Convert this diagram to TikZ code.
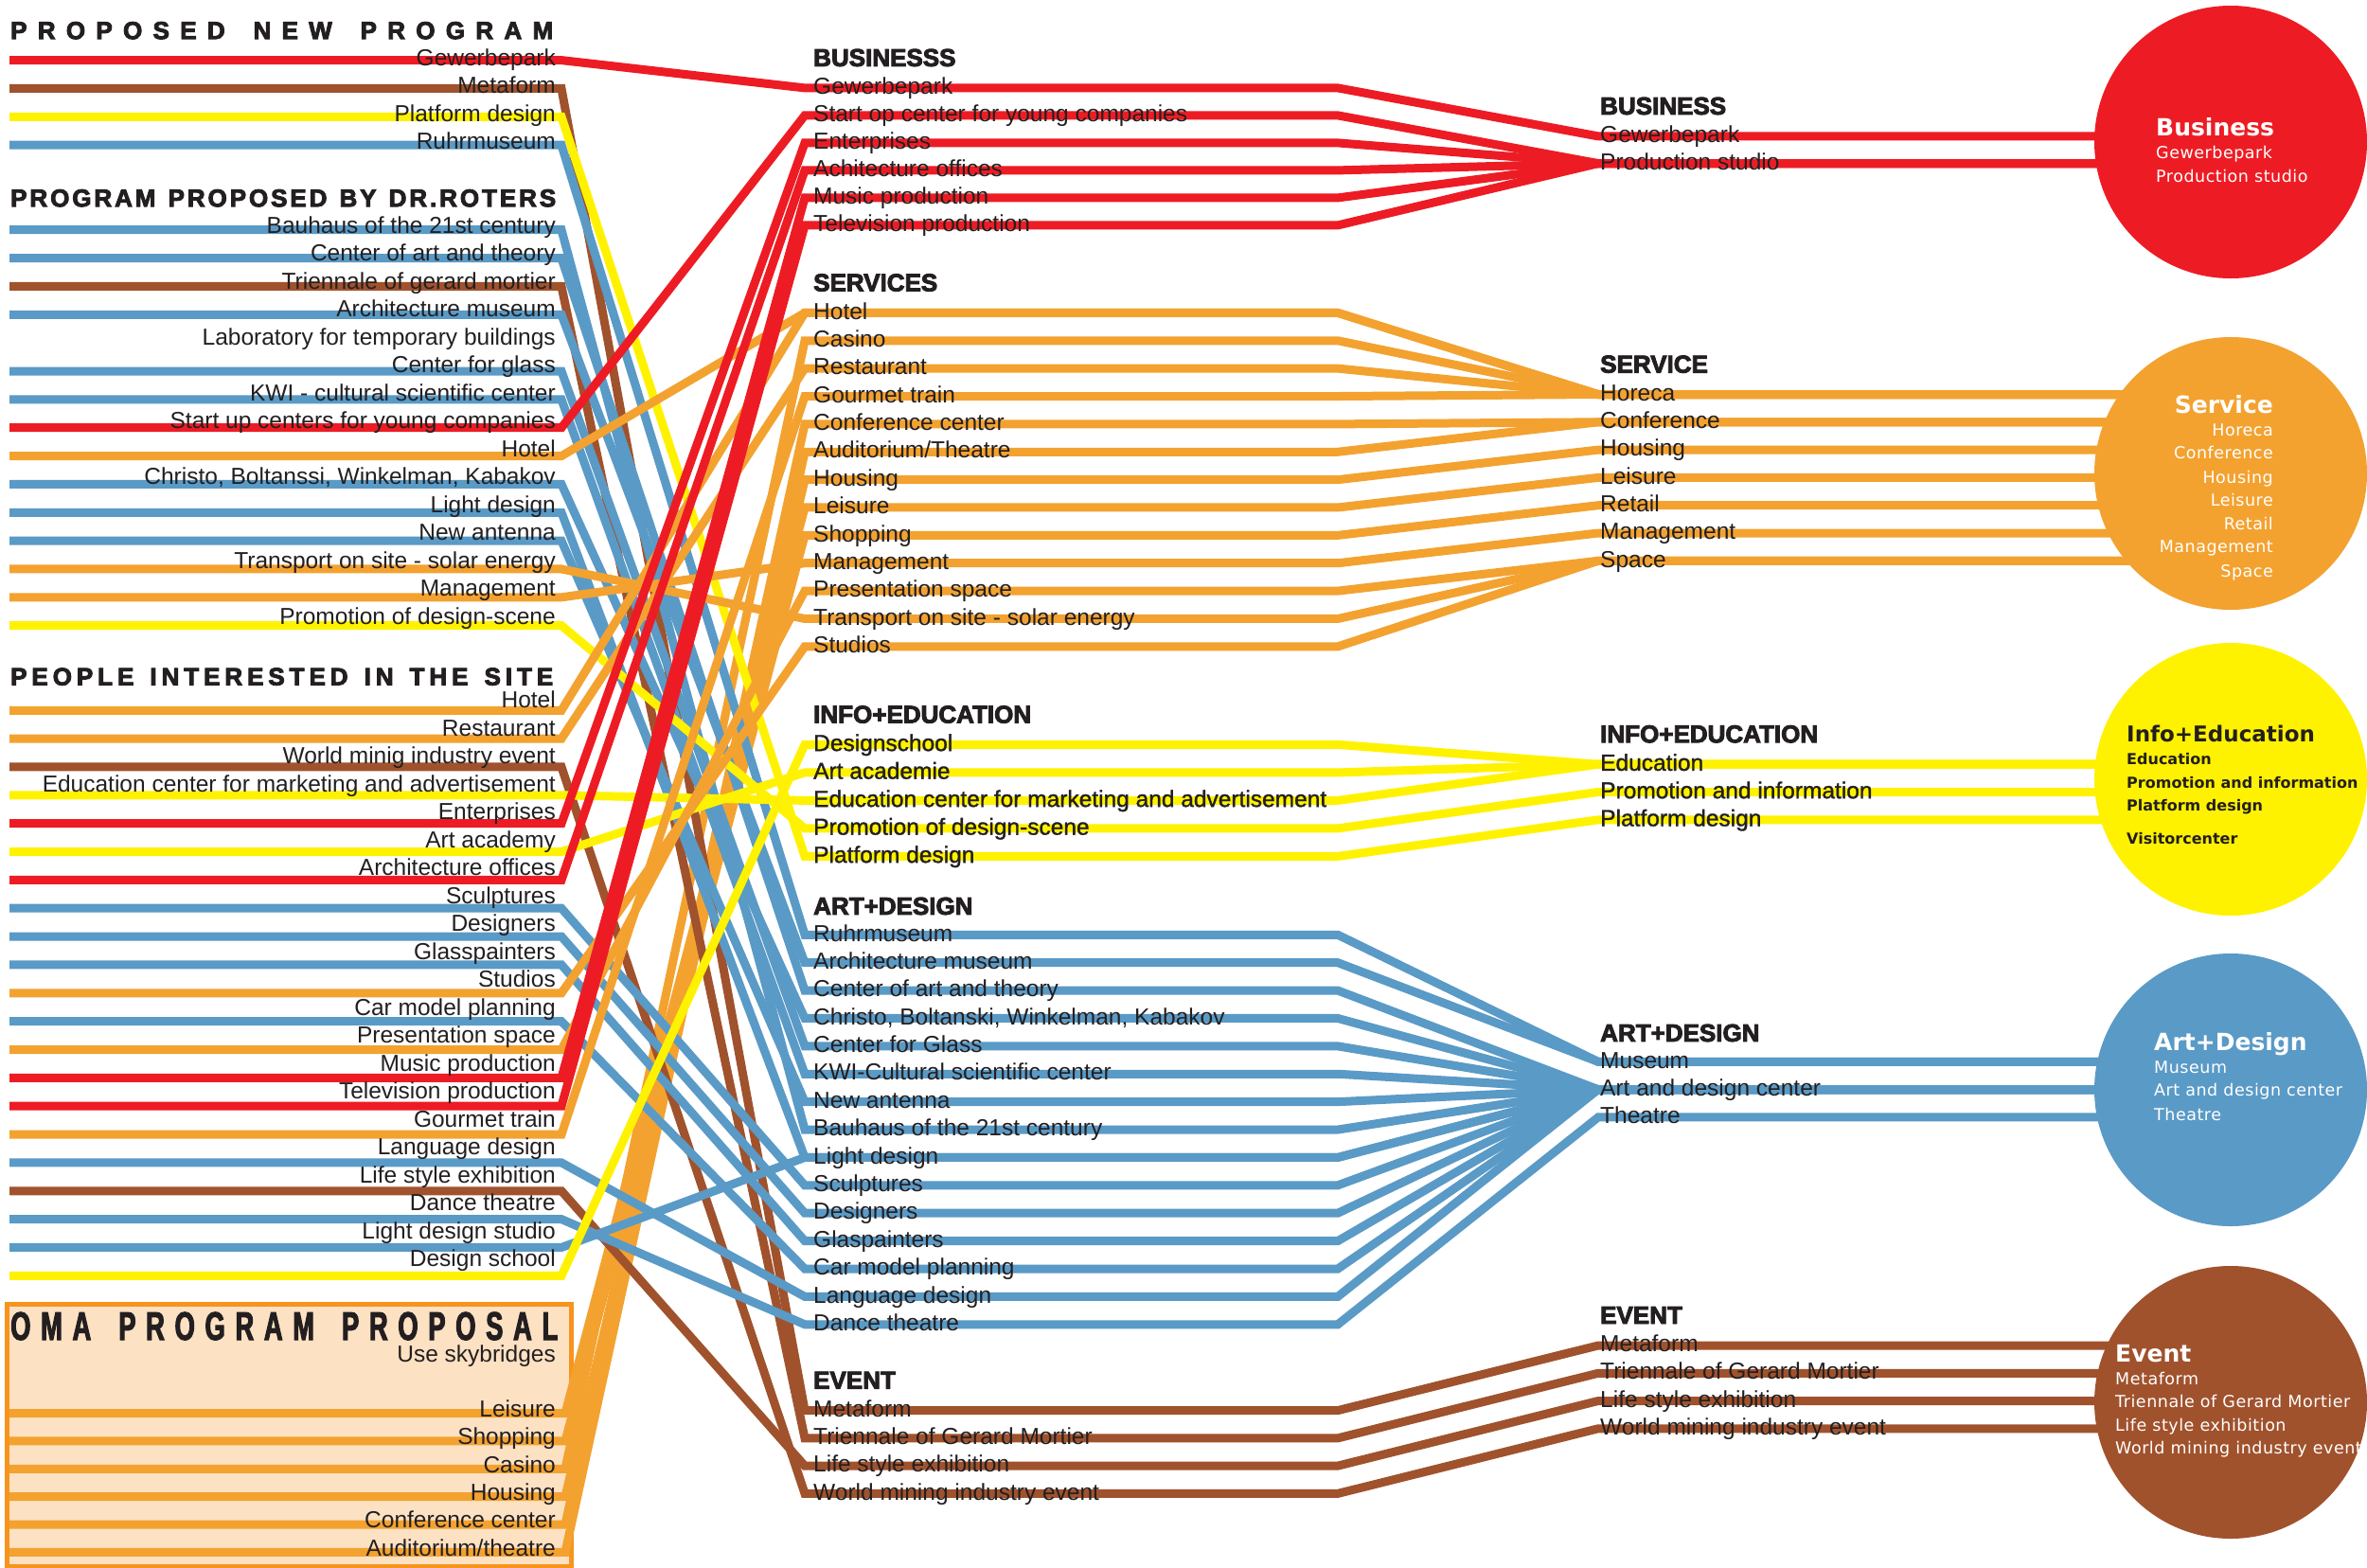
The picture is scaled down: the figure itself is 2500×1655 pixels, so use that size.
\documentclass[tikz,border=0pt]{standalone}
\usepackage{fontspec}
\setmainfont{Liberation Sans}
\newfontfamily\medfont[FakeBold=1.2]{Liberation Sans}
\newfontfamily\hdfont[UprightFont={* Bold}, FakeBold=3.5]{Liberation Sans}
\newfontfamily\omafont[UprightFont={* Bold}, FakeStretch=0.65, FakeBold=2.5]{Liberation Sans}
\newfontfamily\circfont{DejaVu Sans}
\newfontfamily\circitemfont[LetterSpace=3]{DejaVu Sans}
\definecolor{cred}{HTML}{ED1C24}
\definecolor{cbrown}{HTML}{A0522D}
\definecolor{cyellow}{HTML}{FFF200}
\definecolor{cblue}{HTML}{5A9AC6}
\definecolor{corange}{HTML}{F3A230}
\definecolor{cink}{HTML}{231F20}
\definecolor{omafill}{HTML}{FDE1C3}
\definecolor{omaborder}{HTML}{F7941D}
\pgfdeclarelayer{fg}
\pgfsetlayers{main,fg}
\makeatletter
\def\spr@aux#1{\ifx\relax#1\else#1\hfil\expandafter\spr@aux\fi}
\newcommand\spreadtext[2]{\makebox[#1][s]{\spr@aux#2\relax\unskip}}
\makeatother
% middle column: key, y0, dy, style, list
\newcommand\midcol[5]{%
  \foreach \kk/\txt in {#5}{%
    \pgfmathsetmacro\yc{#2+#3*(\kk-1)}%
    \coordinate (ms#1\kk) at (850,\yc+2);%
    \coordinate (me#1\kk) at (1413,\yc+2);%
    \begin{pgfonlayer}{fg}\node[#4, anchor=base west] (mt#1\kk) at (859,\yc+8.7) {\txt};\end{pgfonlayer}%
  }}
\newcommand\rightcol[5]{%
  \foreach \kk/\txt in {#5}{%
    \pgfmathsetmacro\yc{#2+#3*(\kk-1)}%
    \coordinate (rs#1\kk) at (1688,\yc+2);%
    \coordinate (re#1\kk) at (2356,\yc+2);%
    \begin{pgfonlayer}{fg}\node[#4, anchor=base west] (rt#1\kk) at (1690,\yc+8.7) {\txt};\end{pgfonlayer}%
  }}
\begin{document}
\begin{tikzpicture}[x=1pt,y=-1pt,
  flow/.style={line width=9pt},
  lab/.style={inner sep=0pt, text=cink, font=\fontsize{24.5}{26}\selectfont},
  infolab/.style={inner sep=0pt, text=cink, font=\medfont\fontsize{24.5}{26}\selectfont},
  hdr/.style={inner sep=0pt, text=cink, anchor=base west, font=\hdfont\fontsize{26}{28}\selectfont},
  lhdr/.style={inner sep=0pt, text=cink, anchor=base west, font=\hdfont\fontsize{26}{28}\selectfont},
  bigcirc/.style={circle, minimum size=288pt, inner sep=0pt},
  ctitle/.style={inner sep=0pt, font=\circfont\bfseries\fontsize{25}{27}\selectfont},
  citem/.style={inner sep=0pt, font=\circitemfont\fontsize{17.5}{19}\selectfont},
  cinfo/.style={inner sep=0pt, text=cink, font=\circfont\bfseries\fontsize{16}{18}\selectfont}]
\fill[white] (0,0) rectangle (2500,1655);
\useasboundingbox (0,0) rectangle (2500,1655);

% OMA box
\node[draw=omaborder, fill=omafill, line width=5pt, minimum width=596pt, minimum height=277pt, anchor=north west, inner sep=0pt] (omabox) at (5,1375) {};

% ---------- left column ----------
\foreach \idx/\txt in {0/Gewerbepark, 1/Metaform, 2/Platform design, 3/Ruhrmuseum,
  6/Bauhaus of the 21st century, 7/Center of art and theory, 8/Triennale of gerard mortier,
  9/Architecture museum, 10/Laboratory for temporary buildings, 11/Center for glass,
  12/KWI - cultural scientific center, 13/Start up centers for young companies, 14/Hotel,
  15/{Christo, Boltanssi, Winkelman, Kabakov}, 16/Light design, 17/New antenna,
  18/Transport on site - solar energy, 19/Management, 20/Promotion of design-scene,
  23/Hotel, 24/Restaurant, 25/World minig industry event,
  26/Education center for marketing and advertisement, 27/Enterprises, 28/Art academy,
  29/Architecture offices, 30/Sculptures, 31/Designers, 32/Glasspainters, 33/Studios,
  34/Car model planning, 35/Presentation space, 36/Music production, 37/Television production,
  38/Gourmet train, 39/Language design, 40/Life style exhibition, 41/Dance theatre,
  42/Light design studio, 43/Design school}{%
  \pgfmathsetmacro\yc{60.6+29.5*\idx}
  \pgfmathsetmacro\yl{\yc+3+(\yc-60)*0.012}
  \coordinate (ls\idx) at (10,\yl);
  \coordinate (le\idx) at (593,\yl);
  \begin{pgfonlayer}{fg}\node[lab, anchor=base east] (lt\idx) at (587,\yc+8.7) {\txt};\end{pgfonlayer}
}
\foreach \kk/\txt in {1/Leisure, 2/Shopping, 3/Casino, 4/Housing, 5/Conference center, 6/{Auditorium/theatre}}{%
  \pgfmathsetmacro\yc{1487.6+29.35*(\kk-1)}
  \coordinate (lso\kk) at (10,\yc+5);
  \coordinate (leo\kk) at (597,\yc+5);
  \begin{pgfonlayer}{fg}\node[lab, anchor=base east] (lto\kk) at (587,\yc+8.7) {\txt};\end{pgfonlayer}
}
\begin{pgfonlayer}{fg}
\node[lab, anchor=base east] (skyb) at (587,1430+8.7) {Use skybridges};
\node[lhdr] (h1) at (11,31.9+9.3) {\spreadtext{573pt}{PROPOSED~NEW~PROGRAM}};
\node[lhdr] (h2) at (11,208.9+9.3) {\spreadtext{576pt}{PROGRAM~PROPOSED~BY~DR.ROTERS}};
\node[lhdr] (h3) at (11,714.3+9.3) {\spreadtext{573pt}{PEOPLE~INTERESTED~IN~THE~SITE}};
\node[inner sep=0pt, text=cink, anchor=base west, font=\omafont\fontsize{42}{44}\selectfont] (h4) at (11,1400+15) {\spreadtext{578pt}{OMA~PROGRAM~PROPOSAL}};
\end{pgfonlayer}

% ---------- middle column ----------
\midcol{b}{90.9}{29}{lab}{1/Gewerbepark, 2/Start op center for young companies, 3/Enterprises, 4/Achitecture offices, 5/Music production, 6/Television production}
\midcol{s}{328.4}{29.37}{lab}{1/Hotel, 2/Casino, 3/Restaurant, 4/Gourmet train, 5/Conference center, 6/{Auditorium/Theatre}, 7/Housing, 8/Leisure, 9/Shopping, 10/Management, 11/Presentation space, 12/Transport on site - solar energy, 13/Studios}
\midcol{i}{784.4}{29.5}{infolab}{1/Designschool, 2/Art academie, 3/Education center for marketing and advertisement, 4/Promotion of design-scene, 5/Platform design}
\midcol{a}{985.3}{29.39}{lab}{1/Ruhrmuseum, 2/Architecture museum, 3/Center of art and theory, 4/{Christo, Boltanski, Winkelman, Kabakov}, 5/Center for Glass, 6/KWI-Cultural scientific center, 7/New antenna, 8/Bauhaus of the 21st century, 9/Light design, 10/Sculptures, 11/Designers, 12/Glaspainters, 13/Car model planning, 14/Language design, 15/Dance theatre}
\midcol{e}{1487.6}{29.25}{lab}{1/Metaform, 2/Triennale of Gerard Mortier, 3/Life style exhibition, 4/World mining industry event}
\begin{pgfonlayer}{fg}
\node[hdr] (mhb) at (859,60.6+9.3) {BUSINESSS};
\node[hdr] (mhs) at (859,298.2+9.3) {SERVICES};
\node[hdr] (mhi) at (859,754.2+9.3) {INFO+EDUCATION};
\node[hdr] (mha) at (859,956.6+9.3) {ART+DESIGN};
\node[hdr] (mhe) at (859,1457.3+9.3) {EVENT};
\end{pgfonlayer}

% ---------- right column ----------
\rightcol{b}{141.9}{28.7}{lab}{1/Gewerbepark, 2/Production studio}
\rightcol{s}{414.5}{29.3}{lab}{1/Horeca, 2/Conference, 3/Housing, 4/Leisure, 5/Retail, 6/Management, 7/Space}
\rightcol{i}{805.2}{29.3}{infolab}{1/Education, 2/Promotion and information, 3/Platform design}
\rightcol{a}{1119.3}{29.3}{lab}{1/Museum, 2/Art and design center, 3/Theatre}
\rightcol{e}{1419.0}{29.25}{lab}{1/Metaform, 2/Triennale of Gerard Mortier, 3/Life style exhibition, 4/World mining industry event}
\begin{pgfonlayer}{fg}
\node[hdr] (rhb) at (1690,111.6+9.3) {BUSINESS};
\node[hdr] (rhs) at (1690,384.3+9.3) {SERVICE};
\node[hdr] (rhi) at (1690,774.9+9.3) {INFO+EDUCATION};
\node[hdr] (rha) at (1690,1090.6+9.3) {ART+DESIGN};
\node[hdr] (rhe) at (1690,1388.7+9.3) {EVENT};
\end{pgfonlayer}

% ---------- flows ----------
\foreach \kk/\mk/\rk in {1/s8/s4, 2/s9/s5, 3/s2/s1, 4/s7/s3, 5/s5/s2, 6/s6/s2}{%
  \draw[flow,corange] (lso\kk) -- (leo\kk) -- (ms\mk) -- (me\mk) -- (rs\rk) -- (re\rk);
}
\foreach \idx/\col/\mk/\rk in {0/cred/b1/b1, 1/cbrown/e1/e1, 2/cyellow/i5/i3, 3/cblue/a1/a1,
  6/cblue/a8/a2, 7/cblue/a3/a2, 8/cbrown/e2/e2, 9/cblue/a2/a1, 11/cblue/a5/a2, 12/cblue/a6/a2,
  13/cred/b2/b2, 14/corange/s1/s1, 15/cblue/a4/a2, 16/cblue/a9/a2, 17/cblue/a7/a2,
  18/corange/s12/s7, 19/corange/s10/s6, 20/cyellow/i4/i2, 23/corange/s1/s1, 24/corange/s3/s1,
  25/cbrown/e4/e4, 26/cyellow/i3/i1, 27/cred/b3/b2, 28/cyellow/i2/i1, 29/cred/b4/b2,
  30/cblue/a10/a2, 31/cblue/a11/a2, 32/cblue/a12/a2, 33/corange/s13/s7, 34/cblue/a13/a2,
  35/corange/s11/s7, 36/cred/b5/b2, 37/cred/b6/b2, 38/corange/s4/s1, 39/cblue/a14/a2,
  40/cbrown/e3/e3, 41/cblue/a15/a3, 42/cblue/a9/a2, 43/cyellow/i1/i1}{%
  \draw[flow,\col] (ls\idx) -- (le\idx) -- (ms\mk) -- (me\mk) -- (rs\rk) -- (re\rk);
}

% ---------- circles ----------
\node[bigcirc, fill=cred] (cB) at (2356,150) {};
\node[bigcirc, fill=corange] (cS) at (2356,500) {};
\node[bigcirc, fill=cyellow] (cI) at (2356,823) {};
\node[bigcirc, fill=cblue] (cA) at (2356,1151) {};
\node[bigcirc, fill=cbrown] (cE) at (2356,1481) {};

\begin{pgfonlayer}{fg}
\node[ctitle, text=white, anchor=base west] (cBt) at (2277,134+9.1) {Business};
\node[citem, text=white, anchor=base west] (cB1) at (2277,161+6.4) {Gewerbepark};
\node[citem, text=white, anchor=base west] (cB2) at (2277,186+6.4) {Production studio};

\node[ctitle, text=white, anchor=base east] (cSt) at (2401,427+9.1) {Service};
\foreach \kk/\yy/\txt in {1/454/Horeca, 2/478/Conference, 3/504/Housing, 4/528/Leisure, 5/553/Retail, 6/577/Management, 7/603/Space}{%
  \node[citem, text=white, anchor=base east] (cS\kk) at (2401,\yy+6.4) {\txt};
}

\node[inner sep=0pt, text=cink, anchor=base west, font=\circfont\bfseries\fontsize{23}{25}\selectfont] (cIt) at (2246,775+8.4) {Info+Education};
\node[cinfo, anchor=base west] (cI1) at (2246,802+5.8) {Education};
\node[cinfo, anchor=base west] (cI2) at (2246,827+5.8) {Promotion and information};
\node[cinfo, anchor=base west] (cI3) at (2246,851+5.8) {Platform design};
\node[cinfo, anchor=base west] (cI4) at (2246,886+5.8) {Visitorcenter};

\node[ctitle, text=white, anchor=base west] (cAt) at (2275,1100+9.1) {Art+Design};
\node[citem, text=white, anchor=base west] (cA1) at (2275,1127+6.4) {Museum};
\node[citem, text=white, anchor=base west] (cA2) at (2275,1151+6.4) {Art and design center};
\node[citem, text=white, anchor=base west] (cA3) at (2275,1177+6.4) {Theatre};

\node[ctitle, text=white, anchor=base west] (cEt) at (2234,1429+9.1) {Event};
\node[citem, text=white, anchor=base west] (cE1) at (2234,1456+6.4) {Metaform};
\node[citem, text=white, anchor=base west] (cE2) at (2234,1480+6.4) {Triennale of Gerard Mortier};
\node[citem, text=white, anchor=base west] (cE3) at (2234,1505+6.4) {Life style exhibition};
\node[citem, text=white, anchor=base west] (cE4) at (2234,1529+6.4) {World mining industry event};
\end{pgfonlayer}
\end{tikzpicture}
\end{document}
